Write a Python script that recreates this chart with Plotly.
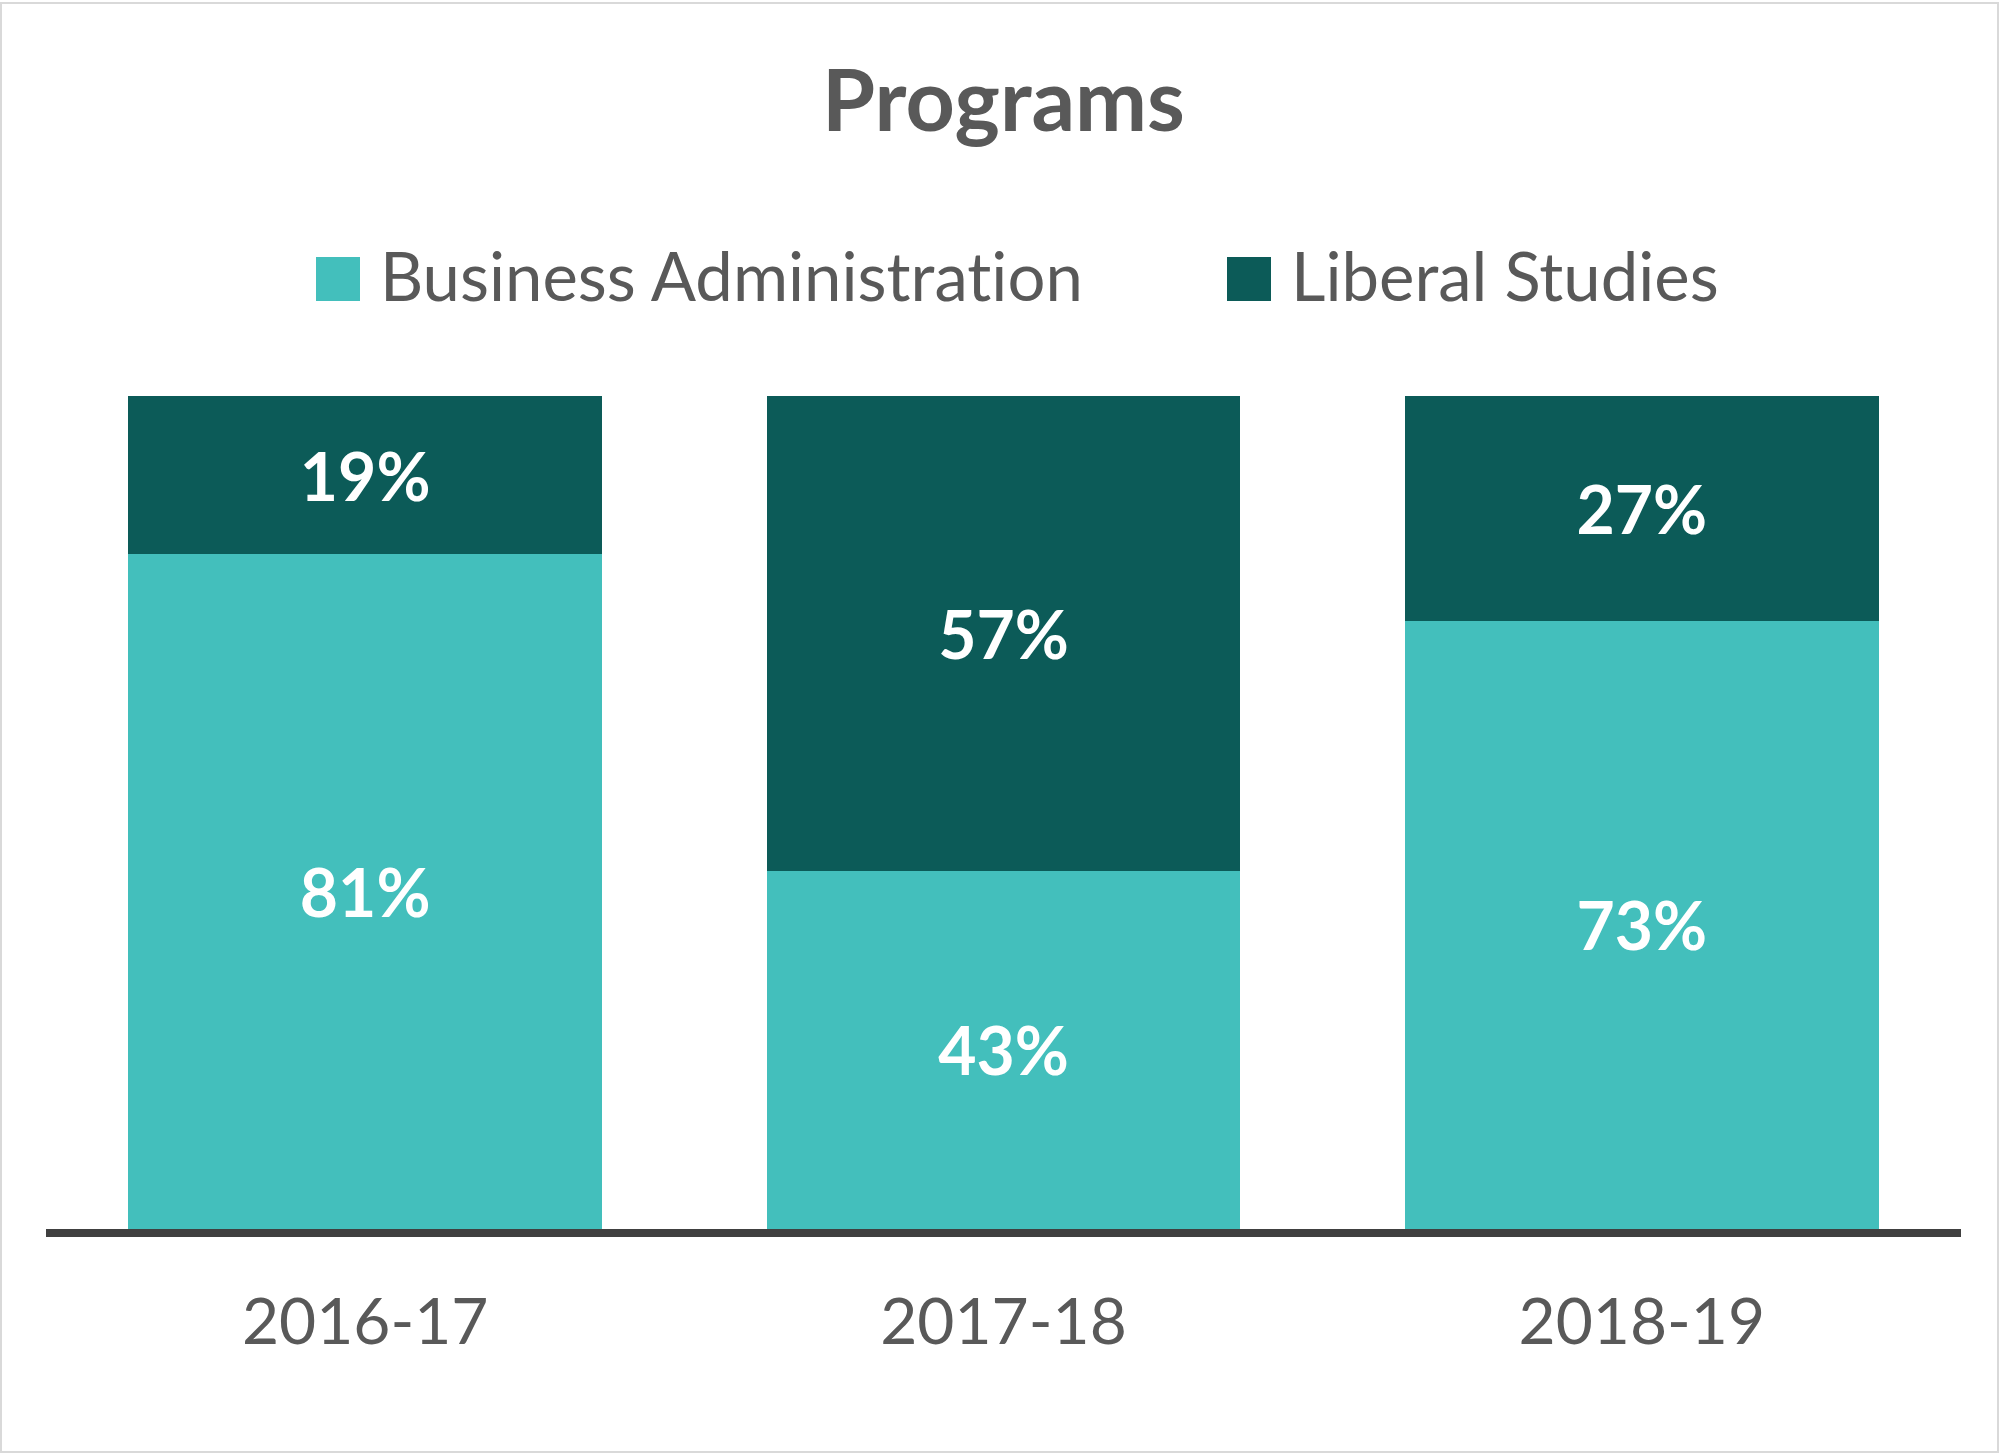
import plotly.graph_objects as go

categories = ["2016-17", "2017-18", "2018-19"]
business_admin = [81, 43, 73]
liberal_studies = [19, 57, 27]
series_names = ["Business Administration", "Liberal Studies"]
series_colors = ["#43BFBC", "#0C5B58"]

W, H = 2000, 1454
L, R, T, B = 46, 1961, 396, 1229  # plot area pixels
PW, PH = R - L, B - T

def px(x):
    return (x - L) / PW

def py(y):
    return (B - y) / PH

font_family = "Lato, 'Open Sans', sans-serif"
grey = "#595959"

fig = go.Figure()
for name, vals, col in zip(series_names, [business_admin, liberal_studies], series_colors):
    fig.add_trace(go.Bar(
        x=categories, y=vals, name=name,
        marker=dict(color=col, line=dict(width=0)),
        text=[f"{v}%" for v in vals],
        textposition="inside", insidetextanchor="middle",
        textfont=dict(family=font_family, size=66, color="white", weight="bold"),
        textangle=0,
        showlegend=False,
    ))

def no_lig(s):
    # break the Lato "ti" ligature so text matches the reference
    return s.replace("ti", "t\u200ci")

shapes = []
annotations = []
# custom legend (large squares)
leg_sq_x = [316, 1227]
leg_txt_x = [378, 1289]
for name, col, sx, tx in zip(series_names, series_colors, leg_sq_x, leg_txt_x):
    shapes.append(dict(type="rect", xref="paper", yref="paper",
                       x0=px(sx), x1=px(sx + 44), y0=py(301), y1=py(257),
                       fillcolor=col, line=dict(width=0)))
    annotations.append(dict(xref="paper", yref="paper", x=px(tx), y=py(275),
                            xanchor="left", yanchor="middle", showarrow=False,
                            text=no_lig(name), font=dict(family=font_family, size=67, color=grey)))
# outer light frame
shapes.append(dict(type="rect", xref="paper", yref="paper",
                   x0=px(1), x1=px(W - 2), y0=py(H - 2), y1=py(3),
                   line=dict(color="#D9D9D9", width=2), fillcolor="rgba(0,0,0,0)", layer="below"))

fig.update_layout(
    width=W, height=H,
    barmode="stack", bargap=0.258,
    margin=dict(l=L, r=W - R, t=T, b=H - B, pad=0),
    paper_bgcolor="white", plot_bgcolor="white",
    title=dict(text="<b>Programs</b>", x=0.5, xanchor="center", xref="paper",
               y=1 - 101 / H, yanchor="middle",
               font=dict(family=font_family, size=86, color=grey)),
    xaxis=dict(showline=True, linecolor="#404040", linewidth=8, ticks="",
               tickfont=dict(family=font_family, size=64, color=grey),
               ticklabelstandoff=30, showgrid=False, zeroline=False),
    yaxis=dict(range=[0, 100], visible=False, showgrid=False, zeroline=False),
    shapes=shapes, annotations=annotations,
)

fig.write_html("out.html")
